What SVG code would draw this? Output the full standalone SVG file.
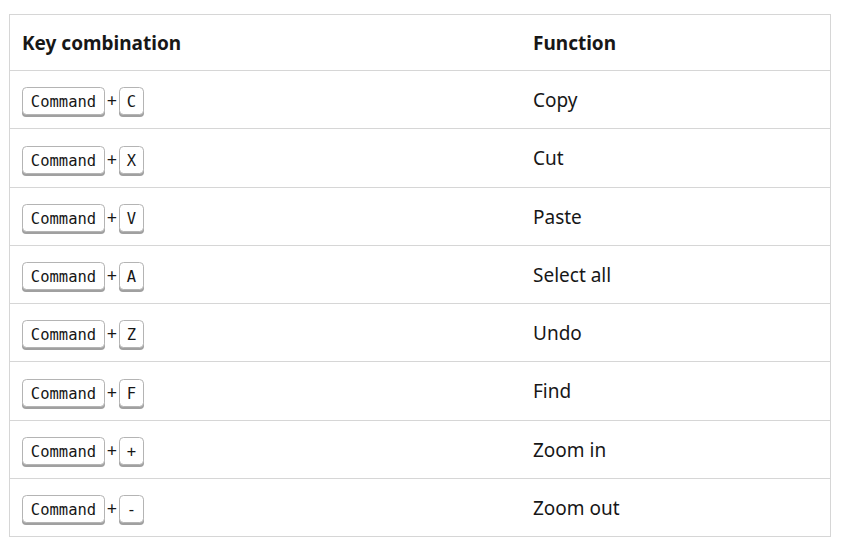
<svg xmlns="http://www.w3.org/2000/svg" width="851" height="559" viewBox="0 0 851 559">
<defs>
<style>
.h{font-family:"Noto Sans","Open Sans",sans-serif;font-weight:bold;font-size:19px;fill:#171717}
.f{font-family:"Noto Sans","Open Sans",sans-serif;font-size:19px;fill:#171717}
.k{fill:#fff;stroke:#b4b4b4;stroke-width:1}
.ks{fill:#a0a0a0}
.kt{font-family:"DejaVu Sans Mono",monospace;font-size:15.5px;fill:#171717;text-anchor:middle}
.p{font-family:"Noto Sans",sans-serif;font-size:18px;fill:#171717;text-anchor:middle}
.l{stroke:#d6d6d6;stroke-width:1}
</style>
<g id="key">
<rect class="ks" x="22" y="-12" width="83" height="28" rx="4"/>
<rect class="k" x="22.5" y="-13.5" width="82" height="27" rx="4"/>
<text class="kt" x="63.5" y="5.5">Command</text>
<text class="p" x="112" y="6">+</text>
<rect class="ks" x="119" y="-12" width="25" height="28" rx="4"/>
<rect class="k" x="119.5" y="-13.5" width="24" height="27" rx="4"/>
</g>
</defs>
<rect x="0" y="0" width="851" height="559" fill="#fff"/>
<g id="grid">
<rect x="9.5" y="14.5" width="821" height="522" fill="none" stroke="#d6d6d6"/>
<line class="l" x1="9.5" y1="70.5" x2="830.5" y2="70.5"/>
<line class="l" x1="9.5" y1="128.5" x2="830.5" y2="128.5"/>
<line class="l" x1="9.5" y1="187.5" x2="830.5" y2="187.5"/>
<line class="l" x1="9.5" y1="245.5" x2="830.5" y2="245.5"/>
<line class="l" x1="9.5" y1="303.5" x2="830.5" y2="303.5"/>
<line class="l" x1="9.5" y1="361.5" x2="830.5" y2="361.5"/>
<line class="l" x1="9.5" y1="420.5" x2="830.5" y2="420.5"/>
<line class="l" x1="9.5" y1="478.5" x2="830.5" y2="478.5"/>
</g>
<g id="header">
<text class="h" x="22" y="50">Key combination</text>
<text class="h" x="533" y="50">Function</text>
</g>
<g id="r1"><use href="#key" y="101"/><text class="kt" x="131.5" y="106.5">C</text><text class="f" x="533" y="107">Copy</text></g>
<g id="r2"><use href="#key" y="160"/><text class="kt" x="131.5" y="165.5">X</text><text class="f" x="533" y="165">Cut</text></g>
<g id="r3"><use href="#key" y="218"/><text class="kt" x="131.5" y="223.5">V</text><text class="f" x="533" y="224">Paste</text></g>
<g id="r4"><use href="#key" y="276"/><text class="kt" x="131.5" y="281.5">A</text><text class="f" x="533" y="282">Select all</text></g>
<g id="r5"><use href="#key" y="334"/><text class="kt" x="131.5" y="339.5">Z</text><text class="f" x="533" y="340">Undo</text></g>
<g id="r6"><use href="#key" y="393"/><text class="kt" x="131.5" y="398.5">F</text><text class="f" x="533" y="398">Find</text></g>
<g id="r7"><use href="#key" y="451"/><text class="kt" x="131.5" y="456.5">+</text><text class="f" x="533" y="457">Zoom in</text></g>
<g id="r8"><use href="#key" y="509"/><text class="kt" x="131.5" y="514.5">-</text><text class="f" x="533" y="515">Zoom out</text></g>
</svg>
